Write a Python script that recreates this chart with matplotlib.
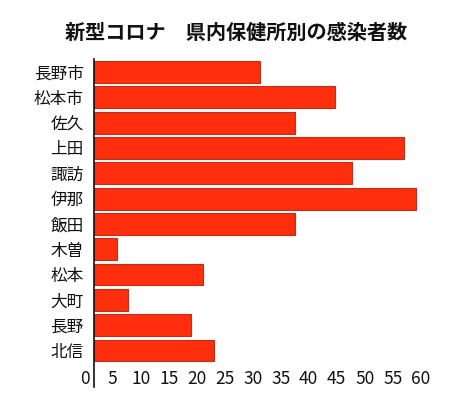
import numpy as np
import matplotlib
matplotlib.use("Agg")
import matplotlib.pyplot as plt
from matplotlib.transforms import ScaledTranslation

plt.rcParams['font.family'] = ['Noto Sans CJK JP', 'DejaVu Sans']

# data
title = '新型コロナ\u3000県内保健所別の感染者数'
areas = ['長野市', '松本市', '佐久', '上田', '諏訪', '伊那', '飯田',
         '木曽', '松本', '大町', '長野', '北信']
cases = [29, 42, 35, 54, 45, 56, 35, 4, 19, 6, 17, 21]
xticks = [0, 5, 10, 15, 20, 25, 30, 35, 40, 45, 50, 55, 60]


def main():
    W, H = 474, 415
    fig = plt.figure(figsize=(W / 100, H / 100), dpi=100)
    ax = fig.add_axes([93.5 / W, 28 / H, 345.3 / W, 328 / H])

    y = np.arange(len(areas))
    ax.barh(y, cases, height=0.86, color='#FF2E0C', edgecolor='#B8301E',
            linewidth=0.8, zorder=2)

    ax.set_xlim(0, 60)
    ax.set_ylim(12.44, -0.514)
    ax.set_xticks(xticks)
    ax.set_yticks(y, areas)

    for side in ['top', 'right', 'bottom']:
        ax.spines[side].set_visible(False)
    ax.spines['left'].set_color('#111111')
    ax.spines['left'].set_linewidth(1.2)
    ax.spines['left'].set_zorder(3)

    ax.tick_params(axis='y', length=0, pad=7, labelsize=12, labelcolor='#111111')
    ax.tick_params(axis='x', length=0, pad=-6, labelsize=12.5, labelcolor='#111111')

    # in the original the x labels drift left of their ticks (a little more to the right)
    for t, lab in zip(xticks, ax.get_xticklabels()):
        shift = ScaledTranslation((-8.8 - 0.155 * t) / 100, 0, fig.dpi_scale_trans)
        lab.set_verticalalignment('center')
        lab.set_transform(lab.get_transform() + shift)

    fig.text(236 / W, 1 - 32.5 / H, title, ha='center', va='center',
             fontsize=14.5, fontweight='bold', color='#111111')

    fig.savefig('out.png', dpi=100)


if __name__ == "__main__":
    main()
